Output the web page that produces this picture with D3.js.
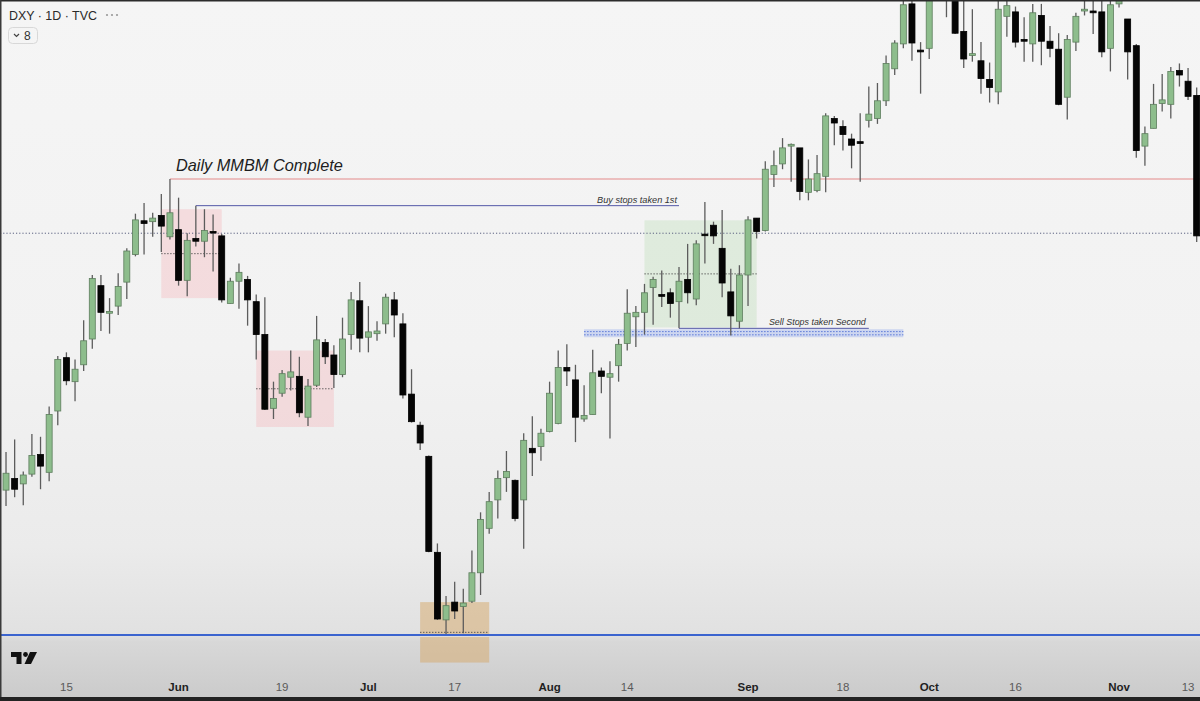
<!DOCTYPE html>
<html><head><meta charset="utf-8">
<script src="https://cdn.jsdelivr.net/npm/d3@7"></script>
<style>html,body{margin:0;padding:0;background:#1e1e1e;overflow:hidden}svg{display:block}</style>
</head><body><svg id="c" width="1200" height="701"></svg>
<script>
// ---- DATA (DXY, 1D, TVC) ----
const startDay = "2023-05-04";
const endDay = "2023-11-14";
const openP = [101.20,101.33,101.27,101.38,101.60,101.40,102.09,102.69,102.42,102.61,102.90,103.50,103.19,103.27,103.54,103.85,104.23,104.22,104.29,104.05,
104.13,103.56,104.03,104.00,104.11,104.06,103.30,103.55,103.57,103.32,102.95,102.12,102.29,102.47,102.48,102.02,102.38,102.86,102.72,102.50,
102.95,103.33,102.92,102.96,103.07,103.34,103.07,102.28,101.93,101.58,100.50,99.74,99.94,99.89,99.95,100.27,100.77,101.09,101.34,101.31,
101.09,101.67,101.69,101.86,101.95,102.58,102.44,102.00,102.05,102.54,102.47,102.60,102.85,103.15,103.20,103.48,103.40,103.42,103.32,103.57,
103.35,104.08,104.18,103.92,103.43,103.10,103.62,104.26,104.12,104.75,104.87,105.07,105.05,104.55,104.57,104.73,105.38,105.29,105.15,105.12,
105.36,105.38,105.58,105.94,106.22,106.67,106.15,106.17,107.04,106.95,106.80,106.36,106.09,106.03,105.82,105.68,106.53,106.58,106.27,106.22,
106.54,106.25,106.16,105.62,106.24,106.59,106.59,106.58,106.17,106.67,106.50,106.20,105.07,105.27,105.55,105.54,105.92,105.80,105.64];
const highP = [101.63,101.77,101.41,101.83,101.80,102.14,102.71,102.75,102.67,103.11,103.62,103.62,103.36,103.64,103.92,104.31,104.43,104.32,104.53,104.70,
104.49,104.09,104.40,104.36,104.30,104.08,103.59,103.75,103.61,103.40,103.37,102.42,102.55,102.77,102.70,102.45,103.16,102.90,102.83,103.14,
103.43,103.54,103.27,103.10,103.41,103.43,103.19,102.56,101.97,101.59,100.60,100.01,100.17,100.09,100.52,100.95,101.18,101.42,101.64,101.32,
101.84,102.03,101.89,102.42,102.77,102.84,102.61,102.38,102.78,102.58,102.65,102.90,103.46,103.27,103.52,103.60,103.67,103.47,103.71,103.97,
104.01,104.44,104.22,104.35,103.69,103.73,104.28,104.26,104.90,105.02,105.16,105.10,105.05,104.92,104.97,105.44,105.41,105.36,105.21,105.44,
105.74,105.78,106.09,106.26,106.80,106.84,106.24,107.11,107.35,107.10,106.86,106.75,106.61,106.24,106.01,106.75,106.78,106.64,106.52,106.67,
106.67,106.42,106.34,106.32,106.57,106.75,106.76,106.80,106.85,107.00,106.50,106.22,105.29,105.77,105.88,105.96,106.00,105.95,105.73];
const lowP = [101.02,101.12,101.03,101.35,101.21,101.30,101.93,102.38,102.20,102.54,102.79,102.99,102.96,103.17,103.35,103.83,103.85,104.05,103.88,104.02,
103.50,103.38,103.94,103.82,103.66,103.31,103.30,103.24,103.05,102.67,102.10,102.00,102.25,102.32,102.02,101.92,102.36,102.62,102.35,102.47,
102.78,102.75,102.75,102.88,102.96,102.92,102.23,101.96,101.65,100.50,99.74,99.57,99.75,99.59,99.93,100.02,100.71,100.88,101.18,100.85,
100.54,101.36,101.53,101.85,101.94,102.37,101.74,101.97,102.05,102.29,101.78,102.42,102.77,102.81,102.95,103.06,103.26,103.14,103.02,103.30,
103.28,103.75,103.97,103.37,102.94,103.02,103.27,104.03,104.11,104.61,104.81,104.67,104.46,104.46,104.55,104.55,105.08,105.02,104.82,104.67,
105.28,105.32,105.52,105.87,106.17,106.03,105.66,106.05,106.85,106.52,106.33,105.95,106.02,105.66,105.56,105.54,106.30,106.18,106.02,106.02,
105.98,106.07,105.53,105.37,106.14,106.54,106.33,106.07,105.91,106.63,105.82,104.94,104.85,105.27,105.46,105.38,105.74,105.59,103.99];
const closeP = [101.39,101.21,101.37,101.59,101.47,102.05,102.67,102.43,102.56,102.88,103.58,103.20,103.21,103.49,103.89,104.24,104.20,104.26,104.17,104.32,
103.56,104.01,104.00,104.12,104.10,103.34,103.55,103.65,103.34,102.95,102.11,102.23,102.51,102.53,102.07,102.37,102.89,102.70,102.50,102.90,
103.34,102.91,102.98,102.99,103.37,103.17,102.27,101.97,101.73,100.51,99.75,99.90,99.84,99.93,100.27,100.87,101.07,101.33,101.41,100.88,
101.76,101.62,101.84,102.29,102.58,102.54,102.02,102.04,102.52,102.48,102.51,102.84,103.19,103.20,103.42,103.57,103.38,103.30,103.55,103.42,
103.97,104.07,104.06,103.53,103.16,103.62,104.24,104.11,104.81,104.85,105.05,105.09,104.56,104.70,104.76,105.41,105.33,105.20,105.08,105.10,
105.43,105.58,106.00,106.23,106.66,106.23,106.13,107.04,106.95,106.75,106.34,106.05,106.11,105.83,105.73,106.61,106.65,106.24,106.25,106.57,
106.25,106.17,105.54,106.27,106.53,106.61,106.57,106.13,106.66,106.78,106.13,105.02,105.21,105.54,105.59,105.91,105.87,105.63,104.06];

const tickDays   = ["2023-05-15","2023-06-01","2023-06-19","2023-07-03","2023-07-17","2023-08-01","2023-08-14","2023-09-01","2023-09-18","2023-10-02","2023-10-16","2023-11-01","2023-11-13"];
const tickLabels = ["15","Jun","19","Jul","17","Aug","14","Sep","18","Oct","16","Nov","13"];
const tickMonth  = [false,true,false,true,false,true,false,true,false,true,false,true,false];

// annotation boxes (start/end bar index, price range)
const boxStart = [18, 29, 48, 74];
const boxEnd   = [25, 38, 56, 87];
const boxHigh  = [104.36, 102.77, 99.94, 104.235];
const boxLow   = [103.36, 101.91, 99.26, 103.03];
const boxKind  = ["pink", "pink", "tan", "green"];
// key levels
const mmbmLevel = 104.70, mmbmBar = 19;
const eqLevel = 104.09;
const buyStopsLevel = 104.40, buyStopsFrom = 22, buyStopsTo = 78;
const sellStopsLevel = 103.02, sellStopsFrom = 78, sellStopsTo = 100;
const bandTop = 103.01, bandBottom = 102.92, bandFrom = 67, bandTo = 104;
const lowLevel = 99.57;

// ---- CHART ----
const W = 1200, H = 701;
const FONT = "Liberation Sans, Arial, sans-serif";
const svg = d3.select("#c");
const parse = d3.utcParse("%Y-%m-%d");
const fmt = d3.utcFormat("%Y-%m-%d");
const days = d3.utcDay.range(parse(startDay), d3.utcDay.offset(parse(endDay), 1))
  .filter(d => d.getUTCDay() !== 0 && d.getUTCDay() !== 6).map(fmt);
const bars = days.map((d, i) => ({d, o: openP[i], h: highP[i], l: lowP[i], c: closeP[i]}));

const x = d3.scaleBand().domain(days).range([1.7, 1201]).padding(0);
const cx = i => x(days[i]) + x.bandwidth() / 2;
const y = d3.scaleLinear().domain([lowLevel, mmbmLevel]).range([635, 179]);

const defs = svg.append("defs");
const g = defs.append("linearGradient").attr("id", "bg").attr("x1", 0).attr("y1", 0).attr("x2", 0).attr("y2", 1);
[[0, "#f5f5f5"], [0.5, "#f2f2f2"], [0.78, "#ebebeb"], [0.905, "#e1e1e1"], [0.915, "#d8d8d8"], [1, "#cacaca"]]
  .forEach(([o, c]) => g.append("stop").attr("offset", o).attr("stop-color", c));
defs.append("clipPath").attr("id", "plot").append("rect").attr("x", 0).attr("y", 0).attr("width", W).attr("height", 636);

svg.append("rect").attr("width", W).attr("height", H).attr("fill", "url(#bg)");

const plot = svg.append("g").attr("clip-path", "url(#plot)");

// boxes
const boxFill = {pink: "rgba(246,170,178,0.32)", tan: "rgba(214,168,104,0.5)", green: "rgba(165,212,155,0.25)"};
boxStart.forEach((s, k) => {
  plot.append("rect").attr("x", cx(s)).attr("width", cx(boxEnd[k]) - cx(s))
    .attr("y", y(boxHigh[k])).attr("height", y(boxLow[k]) - y(boxHigh[k]))
    .attr("fill", boxFill[boxKind[k]]);
});
svg.append("rect").attr("x", cx(boxStart[2])).attr("width", cx(boxEnd[2]) - cx(boxStart[2]))
  .attr("y", 637).attr("height", y(boxLow[2]) - 637).attr("fill", boxFill.tan);

// full-width equilibrium dotted line
plot.append("line").attr("x1", 0).attr("x2", W).attr("y1", y(eqLevel)).attr("y2", y(eqLevel))
  .attr("stroke", "#5a6080").attr("stroke-width", 1).attr("stroke-dasharray", "1.2,2");
// box midlines
boxStart.forEach((s, k) => {
  const m = (boxHigh[k] + boxLow[k]) / 2;
  plot.append("line").attr("x1", cx(s)).attr("x2", cx(boxEnd[k])).attr("y1", y(m)).attr("y2", y(m))
    .attr("stroke", "#444").attr("stroke-width", 1).attr("stroke-dasharray", "1.2,1.8");
});
// sell stops blue band
plot.append("rect").attr("x", cx(bandFrom)).attr("width", cx(bandTo) - cx(bandFrom))
  .attr("y", y(bandTop)).attr("height", y(bandBottom) - y(bandTop)).attr("fill", "rgba(120,150,235,0.3)");
[-1.6, 1.6].forEach(dy => {
  const yy = (y(bandTop) + y(bandBottom)) / 2 + dy;
  plot.append("line").attr("x1", cx(bandFrom)).attr("x2", cx(bandTo)).attr("y1", yy).attr("y2", yy)
    .attr("stroke", "#5a78d8").attr("stroke-width", 1).attr("stroke-dasharray", "1.5,1.5");
});
// red MMBM line
plot.append("line").attr("x1", cx(mmbmBar)).attr("x2", W).attr("y1", y(mmbmLevel)).attr("y2", y(mmbmLevel))
  .attr("stroke", "#e38a8a").attr("stroke-width", 1.2);
// buy stops line
plot.append("line").attr("x1", cx(buyStopsFrom)).attr("x2", cx(buyStopsTo)).attr("y1", y(buyStopsLevel)).attr("y2", y(buyStopsLevel))
  .attr("stroke", "#5458a8").attr("stroke-width", 1);
// sell stops line
plot.append("line").attr("x1", cx(sellStopsFrom)).attr("x2", cx(sellStopsTo)).attr("y1", y(sellStopsLevel)).attr("y2", y(sellStopsLevel))
  .attr("stroke", "#5458a8").attr("stroke-width", 1);

// candles
const bw = 6;
const cg = plot.append("g");
cg.selectAll("line.w").data(bars).join("line").attr("class", "w")
  .attr("x1", (d, i) => cx(i)).attr("x2", (d, i) => cx(i))
  .attr("y1", d => y(d.h)).attr("y2", d => y(d.l))
  .attr("stroke", "#5c5c5c").attr("stroke-width", 1.3);
cg.selectAll("rect.b").data(bars).join("rect").attr("class", "b")
  .attr("x", (d, i) => cx(i) - bw / 2).attr("width", bw)
  .attr("y", d => y(Math.max(d.o, d.c)))
  .attr("height", d => Math.max(1.6, Math.abs(y(d.o) - y(d.c))))
  .attr("fill", d => d.c >= d.o ? "#8dbd8c" : "#050505")
  .attr("stroke", d => d.c >= d.o ? "#5d7d5d" : "#000")
  .attr("stroke-width", 0.8);

// bottom low line
svg.append("line").attr("x1", 0).attr("x2", W).attr("y1", y(lowLevel)).attr("y2", y(lowLevel))
  .attr("stroke", "#3b64cf").attr("stroke-width", 2);

// helper to fit text to a measured width
function fitText(sel, size, target) {
  sel.attr("font-size", size);
  const w = sel.node().getComputedTextLength();
  if (w > 0) sel.attr("font-size", size * target / w);
  return sel;
}

// annotation texts
fitText(svg.append("text").attr("x", cx(mmbmBar) + 6).attr("y", y(mmbmLevel) - 8)
  .attr("font-family", FONT).attr("font-style", "italic")
  .attr("fill", "#1e1e1e").text("Daily MMBM Complete"), 17, 167);
fitText(svg.append("text").attr("x", cx(buyStopsTo) - 2).attr("y", y(buyStopsLevel) - 3).attr("text-anchor", "end")
  .attr("font-family", FONT).attr("font-style", "italic")
  .attr("fill", "#333").text("Buy stops taken 1st"), 9, 80);
fitText(svg.append("text").attr("x", cx(sellStopsTo) - 3).attr("y", y(sellStopsLevel) - 3).attr("text-anchor", "end")
  .attr("font-family", FONT).attr("font-style", "italic")
  .attr("fill", "#333").text("Sell Stops taken Second"), 9, 97);

// x axis
const axis = d3.axisBottom(x).tickValues(tickDays).tickSize(0).tickPadding(0)
  .tickFormat((d, i) => tickLabels[i]);
const ax = svg.append("g").attr("transform", "translate(0,683)").call(axis);
ax.select(".domain").remove();
ax.selectAll("text").attr("font-family", FONT).attr("font-size", 11.5)
  .attr("fill", (d, i) => tickMonth[i] ? "#1f1f1f" : "#5a5a5a")
  .attr("font-weight", (d, i) => tickMonth[i] ? "bold" : "normal");

// header
const hdr = fitText(svg.append("text").attr("x", 9).attr("y", 20).attr("font-family", FONT)
  .attr("fill", "#2a2a2a").text("DXY · 1D · TVC"), 14, 88);
[107, 112, 117].forEach(px => svg.append("circle").attr("cx", px).attr("cy", 15).attr("r", 1.1).attr("fill", "#9a9a9a"));
svg.append("rect").attr("x", 8.5).attr("y", 27.5).attr("width", 29).attr("height", 16).attr("rx", 4)
  .attr("fill", "none").attr("stroke", "#d8d8d8");
svg.append("path").attr("d", "M14,34 L16.5,36.5 L19,34").attr("fill", "none").attr("stroke", "#444").attr("stroke-width", 1.2);
svg.append("text").attr("x", 24).attr("y", 40).attr("font-family", FONT)
  .attr("font-size", 12).attr("fill", "#333").text("8");

// TradingView logo
const logo = svg.append("g").attr("fill", "#111");
logo.append("path").attr("d", "M11,652 H21.5 V664 H16.5 V657 H11 Z");
logo.append("circle").attr("cx", 25.5).attr("cy", 654.5).attr("r", 2.4);
logo.append("path").attr("d", "M30,652 H37 L31,664 H24.5 Z");

// frame
svg.append("rect").attr("x", 0).attr("y", 0).attr("width", W).attr("height", 1.5).attr("fill", "#2b2b2b");
svg.append("rect").attr("x", 0).attr("y", 0).attr("width", 1.5).attr("height", H).attr("fill", "#3a3a3a");
svg.append("rect").attr("x", 0).attr("y", 697).attr("width", W).attr("height", 4).attr("fill", "#232323");
</script>
</body></html>
